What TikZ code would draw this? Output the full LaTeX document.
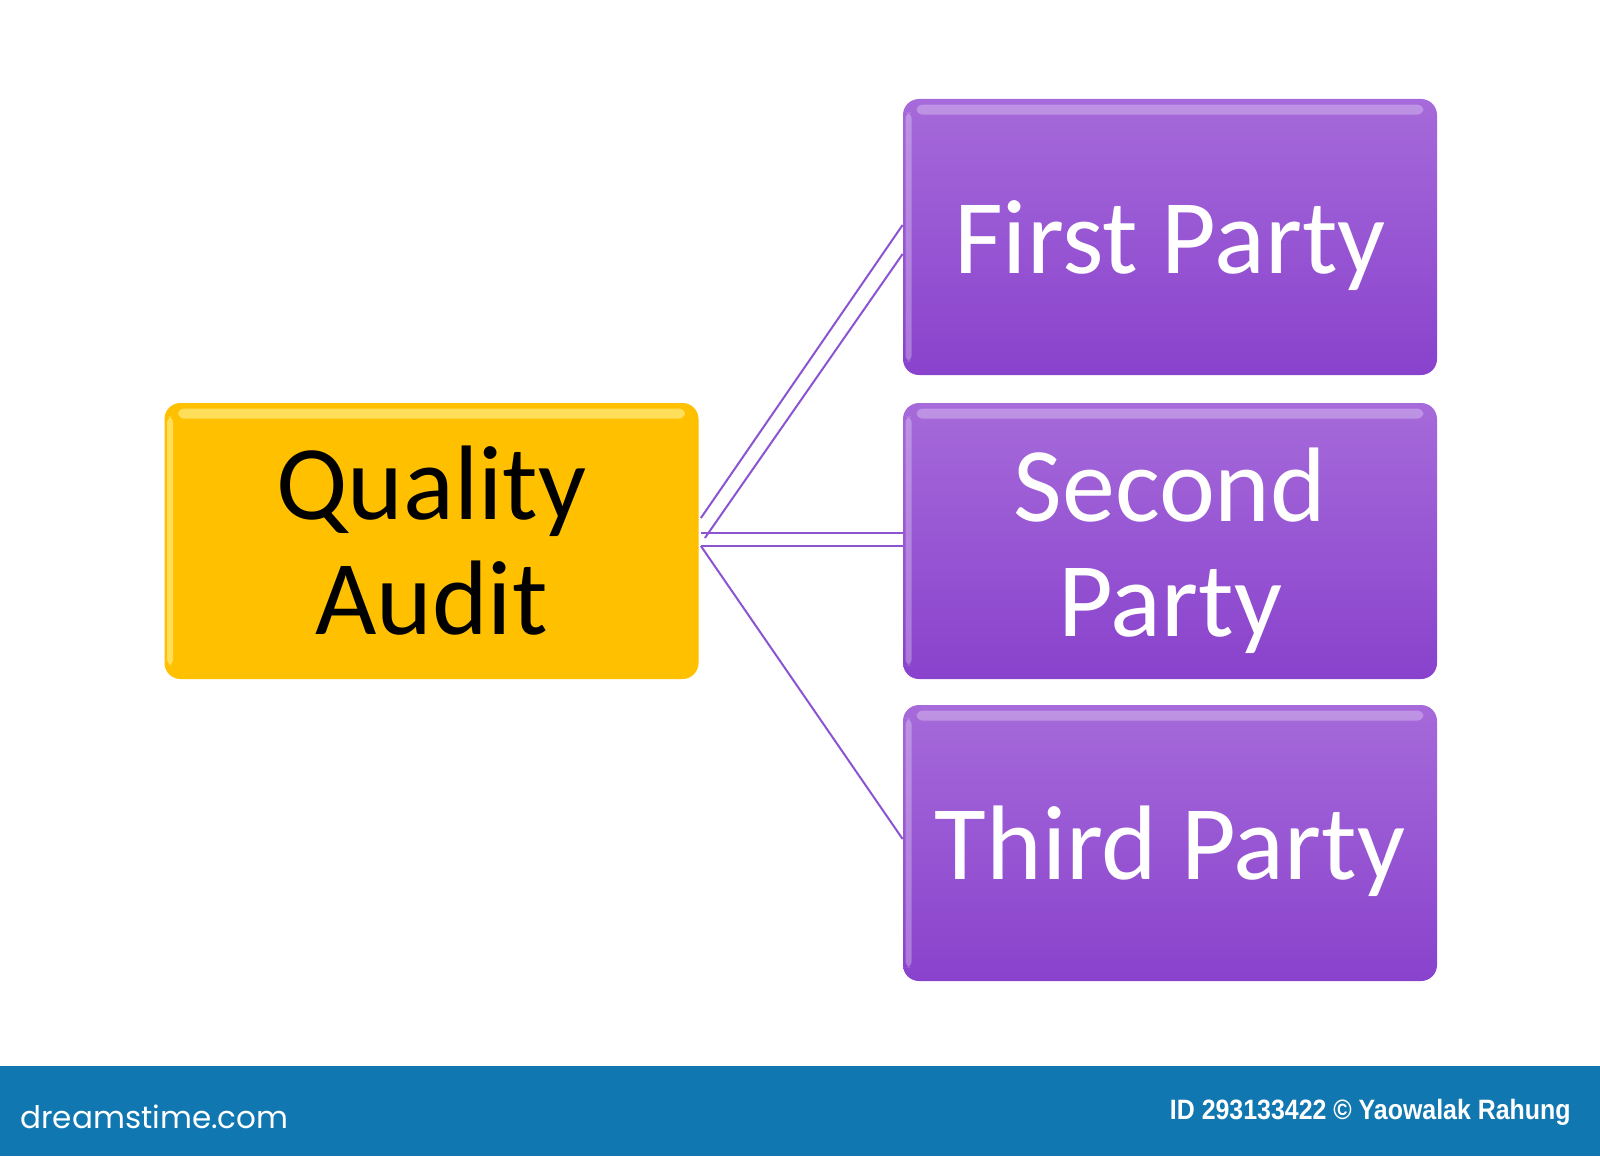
\documentclass[tikz,border=0pt]{standalone}
\usepackage{fontspec}
\usepackage{graphicx}
\setmainfont{Carlito}
\newfontfamily\barfont{Liberation Sans}
\newfontfamily\logofont{Poppins}
\usetikzlibrary{calc}
\definecolor{gold}{RGB}{255,192,0}
\definecolor{goldlight}{RGB}{255,222,90}
\definecolor{purpTop}{RGB}{166,106,218}
\definecolor{purpBot}{RGB}{137,66,204}
\definecolor{linkcol}{RGB}{140,84,208}
\definecolor{barblue}{RGB}{16,119,176}
\tikzset{
  basebox/.style={rounded corners=8pt, minimum width=267pt, minimum height=138pt,
    inner sep=0pt, align=center, font=\fontsize{53}{57.5}\selectfont},
  purplebox/.style={basebox, top color=purpTop, bottom color=purpBot, text=white},
  goldbox/.style={basebox, fill=gold, text=black},
  link/.style={draw=linkcol, line width=1pt},
  shine/.style={fill=white, opacity=0.28, rounded corners=3pt},
  bartext/.style={text=white, inner sep=0pt}
}
\begin{document}
\begin{tikzpicture}[x=0.5pt,y=-0.5pt]
\useasboundingbox (0,0) rectangle (1600,1156);
\fill[white] (0,0) rectangle (1600,1156);

% nodes
\node[goldbox] (qa) at (431.5,541) {Quality\\Audit};
\node[purplebox, text depth=0pt] (fp) at (1170,237) {First Party};
\node[purplebox] (sp) at (1170,541) {\raisebox{-7.7pt}[\height][\depth]{\begin{tabular}{@{}c@{}}Second\\Party\end{tabular}}};
\node[purplebox, text depth=0pt] (tp) at (1170,843) {Third Party};

% bevel highlights
\fill[goldlight, rounded corners=3pt] ($(qa.north west)+(14,6)$) rectangle ($(qa.north east)+(-14,16)$);
\fill[goldlight, rounded corners=3pt] ($(qa.north west)+(3,14)$) rectangle ($(qa.south west)+(9,-14)$);
\foreach \b in {fp,sp,tp}{
  \fill[shine] ($(\b.north west)+(14,6)$) rectangle ($(\b.north east)+(-14,16)$);
  \fill[shine] ($(\b.north west)+(3,14)$) rectangle ($(\b.south west)+(9,-14)$);
}

% connectors
\draw[link] ($(qa.east)+(2,-23)$) -- ($(fp.west)+(0,-12)$);
\draw[link] ($(qa.east)+(6,-3)$) -- ($(fp.west)+(0,17)$);
\draw[link] ($(qa.east)+(2,-8)$) -- ($(sp.west)+(0,-8)$);
\draw[link] ($(qa.east)+(2,5)$) -- ($(sp.west)+(0,5)$);
\draw[link] ($(qa.east)+(2,5)$) -- ($(tp.west)+(0,-4)$);

% bottom bar
\fill[barblue] (0,1066) rectangle (1600,1156);
\node[bartext, anchor=base west, font=\logofont\fontsize{15.5}{15.5}\selectfont] (logo) at (20,1128) {dreamstime.com};
\node[bartext, anchor=base east, font=\barfont\bfseries\fontsize{14}{14}\selectfont] (credit) at (1571,1119) {\scalebox{0.89}[1]{ID 293133422 © Yaowalak Rahung}};
\end{tikzpicture}
\end{document}
